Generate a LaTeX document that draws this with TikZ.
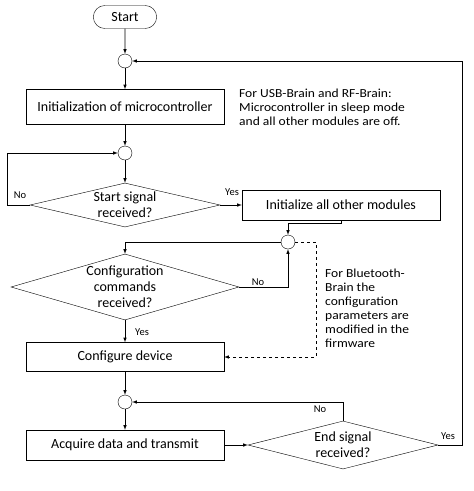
\documentclass[tikz,border=0pt]{standalone}
\usepackage{fontspec}
\setmainfont{Carlito}
\newfontfamily\notefont[FakeStretch=1.1]{Carlito}
\usetikzlibrary{positioning,shapes.geometric,shapes.misc,arrows,calc}

\begin{document}
\begin{tikzpicture}[
    x=1pt, y=-1pt,
    box/.style={draw, align=center, minimum width=198pt, minimum height=30pt, font=\fontsize{14}{16}\selectfont},
    term/.style={draw, rounded rectangle, minimum width=70pt, minimum height=23pt, font=\fontsize{14}{16}\selectfont},
    dec/.style={draw, diamond, align=center, inner sep=-3pt, font=\fontsize{14}{16}\selectfont},
    junction/.style={draw, circle, minimum size=14pt, inner sep=0pt},
    arr/.style={-latex, semithick},
    note/.style={align=left, anchor=north west, inner sep=0pt, font=\notefont\fontsize{12.3}{14}\selectfont},
    lbl/.style={font=\fontsize{10.5}{12}\selectfont}
]
\useasboundingbox (0,0) rectangle (474,491);

% left column
\node[term] (start) at (125,17) {Start};
\node[junction] (c1) at (125,61) {};
\node[box, minimum height=35pt] (init) at (125,107) {Initialization of microcontroller};
\node[junction] (c2) at (125,153) {};
\node[dec, minimum width=190pt, minimum height=44pt, aspect=4.3] (dstart) at (125,205) {Start signal\\received?};
\node[box, minimum width=198pt] (initall) at (341,205) {Initialize all other modules};
\node[junction] (c3) at (288,242) {};
\node[dec, minimum width=228pt, minimum height=66pt, aspect=3.45] (dconf) at (125,287) {Configuration\\commands\\received?};
\node[box, minimum height=29pt] (conf) at (125,357) {Configure device};
\node[junction] (c4) at (125,402) {};
\node[box] (acq) at (125,445) {Acquire data and transmit};
\node[dec, minimum width=190pt, minimum height=48pt, aspect=3.96] (dend) at (343,445) {End signal\\received?};

% notes
\node[note] (nusb) at (239,89) {For USB-Brain and RF-Brain:\\Microcontroller in sleep mode\\and all other modules are off.};
\node[note] (nbt) at (325,269) {For Bluetooth-\\Brain the\\configuration\\parameters are\\modified in the\\firmware};

% flow
\draw[arr] (start) -- (c1);
\draw[arr] (c1) -- (init);
\draw[arr] (init) -- (c2);
\draw[arr] (c2) -- (dstart);
\draw[arr] (dstart.west) -- ++(-23,0) |- (c2.west);
\node[lbl] (nostart) at (20,195) {No};
\draw[arr] (dstart.east) -- (initall.west);
\node[lbl] (yesstart) at (232,192) {Yes};
\draw[arr] (initall.south) -- ++(0,3) -| (c3.north);
\draw[arr] (c3.west) -| (dconf.north);
\draw[arr] (dconf.east) -| (c3.south);
\node[lbl] (noconf) at (258,282) {No};
\draw[arr, dashed] (c3.east) -- ++(21,0) |- (conf.east);
\draw[arr] (dconf.south) -- (conf.north);
\node[lbl] (yesconf) at (142,332) {Yes};
\draw[arr] (conf) -- (c4);
\draw[arr] (c4) -- (acq);
\draw[arr] (acq.east) -- (dend.west);
\draw[arr] (dend.north) |- (c4.east);
\node[lbl] (noend) at (320,409) {No};
\draw[arr] (dend.east) -- ++(24,0) |- (c1.east);
\node[lbl] (yesend) at (448,436) {Yes};
\end{tikzpicture}
\end{document}
